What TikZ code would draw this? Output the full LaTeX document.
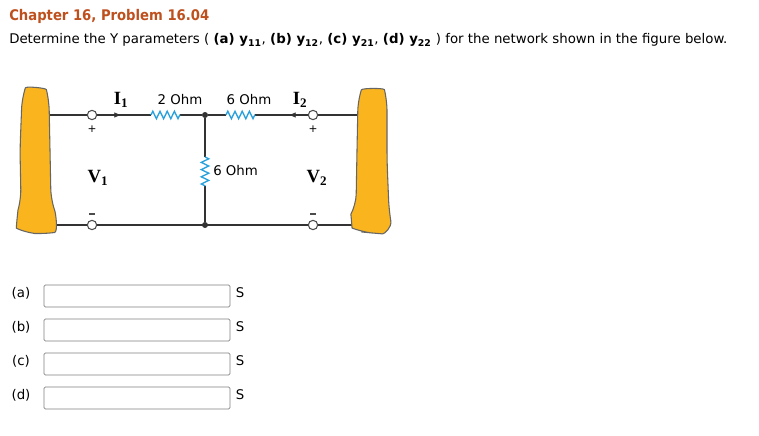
\documentclass[tikz,border=0pt]{standalone}
\usepackage{fontspec}
\setmainfont{DejaVu Sans}
\newfontfamily\condfont{DejaVu Sans Condensed}
\newfontfamily\seriffont{Liberation Serif}
\usetikzlibrary{decorations.pathmorphing,arrows.meta}
\definecolor{titlec}{RGB}{190,80,30}
\definecolor{resc}{RGB}{40,160,220}
\definecolor{blob}{RGB}{250,180,30}
\tikzset{
  wire/.style={line width=1.4pt,black!80},
  res/.style={resc,line width=1pt,decorate,decoration={zigzag,segment length=5.4pt,amplitude=2.8pt}},
  term/.style={circle,draw=black!70,fill=white,line width=0.8pt,inner sep=0pt,minimum size=7pt},
  dot/.style={circle,fill=black!80,inner sep=0pt,minimum size=4.5pt},
  lbl/.style={font=\fontsize{10}{12}\selectfont,inner sep=0pt},
  big/.style={font=\seriffont\bfseries\fontsize{14}{15}\selectfont,inner sep=0pt},
  ansbox/.style={draw=black!50,rounded corners=1pt,line width=0.6pt},
  blobst/.style={fill=blob,draw=black!60,line width=0.8pt,rounded corners=8pt}
}
\begin{document}
\begin{tikzpicture}[x=0.75pt,y=-0.75pt]
\useasboundingbox (0,0) rectangle (759,435);
\node[anchor=base west,inner sep=0pt,text=titlec,font=\condfont\bfseries\fontsize{11}{12}\selectfont] (title) at (9,21) {Chapter 16, Problem 16.04};
\node[anchor=base west,inner sep=0pt,font=\fontsize{10}{12}\selectfont] (q) at (9,44) {Determine the Y parameters ( \textbf{(a) y\textsubscript{11}}, \textbf{(b) y\textsubscript{12}}, \textbf{(c) y\textsubscript{21}}, \textbf{(d) y\textsubscript{22}} ) for the network shown in the figure below.};
% circuit
\coordinate (lt) at (48,115); \coordinate (lb) at (48,225);
\coordinate (rt) at (360,115); \coordinate (rb) at (360,225);
\node[dot] (mt) at (205,115) {};
\node[dot] (mb) at (205,225) {};
\coordinate (r1a) at (151,115); \coordinate (r1b) at (180,115);
\coordinate (r2a) at (226,115); \coordinate (r2b) at (255,115);
\coordinate (r3a) at (205,157); \coordinate (r3b) at (205,186);
\draw[wire] (lt) -- (r1a); \draw[wire] (r1b) -- (mt) -- (r2a); \draw[wire] (r2b) -- (rt);
\draw[wire] (lb) -- (rb);
\draw[wire] (mt) -- (r3a); \draw[wire] (r3b) -- (mb);
\draw[res] (r1a) -- (r1b);
\draw[res] (r2a) -- (r2b);
\draw[res] (r3a) -- (r3b);
\node[term] (t1) at (92,115) {}; \node[term] (t2) at (92,225) {};
\node[term] (t3) at (313,115) {}; \node[term] (t4) at (313,225) {};
\draw[-{Latex[length=5pt,width=4pt]},black!80] (110,115) -- (121,115);
\draw[-{Latex[length=5pt,width=4pt]},black!80] (300,115) -- (289,115);
\node[big] (i1) at (121,100) {I\textsubscript{1}};
\node[big] (i2) at (300,100) {I\textsubscript{2}};
\node[lbl] (l1) at (180,100) {2 Ohm};
\node[lbl] (l2) at (249,100) {6 Ohm};
\node[lbl,anchor=west] (l3) at (213,171) {6 Ohm};
\node[big] (v1) at (98,178) {V\textsubscript{1}};
\node[big] (v2) at (317,178) {V\textsubscript{2}};
\node[lbl,font=\fontsize{8}{9}\selectfont] at (92,129) {+};
\node[lbl,font=\fontsize{8}{9}\selectfont] at (313,129) {+};
\draw[black!70,line width=0.8pt] (89,214) -- (95,214);
\draw[black!70,line width=0.8pt] (310,214) -- (316,214);
\draw[blobst] (22,98) .. controls (26,86) and (46,88) .. (49,100) -- (50,150) -- (51,200) .. controls (56,214) and (58,232) .. (44,234) -- (26,233) .. controls (16,228) and (18,210) .. (21,200) -- (20,150) -- cycle;
\draw[blobst] (358,100) .. controls (362,88) and (384,88) .. (387,100) -- (387,160) -- (389,210) .. controls (392,228) and (384,234) .. (372,233) -- (362,232) .. controls (352,228) and (351,214) .. (356,205) -- (357,150) -- cycle;
% answers
\foreach \n/\y in {a/296,b/330,c/364,d/398}{
  \node[lbl,anchor=center] (lab\n) at (21,\y-3) {(\n)};
  \draw[ansbox] (44,\y-11) rectangle (230,\y+11);
  \node[lbl] (s\n) at (240,\y-3) {S};
}
\end{tikzpicture}
\end{document}
